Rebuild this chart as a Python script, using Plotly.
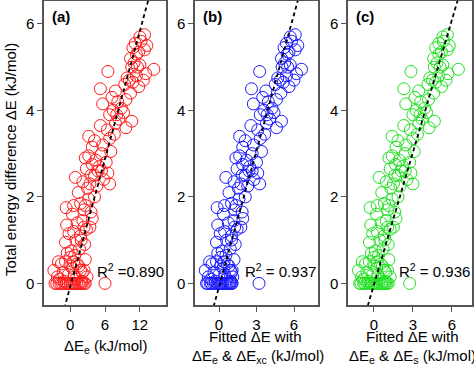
import plotly.graph_objects as go

# shared total energy difference (y) values
y_vals = [0, 0, 0, 0, 0, 0, 0, 0, 0, 0, 0,
          0.15, 0.3, 0.45, 0.5, 0.2, 0.35, 0.1, 0.4, 0.25, 0.55, 0.15, 0.6, 0.05, 0.3, 0.5, 0.2,
          0.65, 0.7, 0.8, 0.95, 0.9, 0.75, 1.0,
          1.1, 1.2, 1.25, 1.3, 1.35, 1.4, 1.45, 1.5, 1.15,
          1.6, 1.7, 1.75, 1.8, 1.85, 1.95, 2.0, 1.65,
          2.1, 2.2, 2.25, 2.35, 2.4, 2.45, 2.5, 2.55, 2.6, 2.3,
          2.65, 2.7, 2.75, 2.8, 2.85, 2.9, 3.0, 3.05, 2.95,
          3.15, 3.2, 3.3, 3.35, 3.4, 3.45,
          3.55, 3.6, 3.65, 3.7, 3.75, 3.8, 3.9, 3.95, 4.0, 4.05,
          4.15, 4.2, 4.25, 4.3, 4.4, 4.5, 4.55, 4.6, 4.45,
          4.65, 4.7, 4.75, 4.8, 4.9, 4.95, 5.0, 5.05, 5.1, 4.85,
          5.2, 5.3, 5.4, 5.45, 5.5, 5.6, 5.7, 5.75, 5.35,
          0, 0, 0, 0, 0, 0, 0, 0, 0,
          0.1, 0.25, 0.4, 0.45, 0.3, 0.05, 0.5,
          1.0, 1.3, 1.8, 2.3, 2.5, 2.6, 3.9, 4.7, 5.0, 5.55]

# (a) Delta E_e
x_a = [-2.6, -1.9, -1.3, -0.6, 0.0, 0.5, 1.1, 1.6, 2.1, 2.6, 6.0,
       -2.2, -2.8, -1.5, -0.8, -0.3, 0.4, 1.0, 1.5, 2.1, 2.6, 2.9, 0.0, -1.0, 1.8, -2.0, 0.7,
       0.8, -0.5, 1.6, -0.8, 2.5, 0.2, 1.0,
       1.8, 0.6, 2.8, 3.4, -0.6, 1.2, 2.2, 3.8, -0.2,
       0.4, 2.4, -0.7, 0.6, 1.8, 3.2, 4.2, 3.6,
       1.4, 3.0, 4.6, 2.2, 5.8, 0.9, 3.6, 6.5, 4.8, 6.8,
       2.8, 5.0, 3.8, 6.2, 4.4, 2.6, 5.4, 7.0, 3.2,
       3.8, 5.6, 4.2, 6.8, 3.2, 7.6,
       6.4, 9.6, 5.2, 7.8, 10.6, 8.4, 6.8, 9.2, 7.4, 8.8,
       5.6, 8.2, 9.6, 7.2, 10.4, 5.2, 11.8, 9.4, 7.8,
       10.8, 12.6, 9.8, 11.4, 6.5, 14.4, 10.6, 12.0, 11.0, 13.0,
       10.4, 11.4, 12.8, 10.8, 13.2, 12.2, 12.0, 12.8, 11.8,
       -2.3, -1.6, -0.9, -0.3, 0.3, 0.8, 1.4, 1.9, 2.4,
       -1.8, -1.2, 0.1, 1.2, 2.4, 2.0, 0.6,
       1.9, 2.4, 2.6, 3.4, 4.2, 5.4, 8.0, 10.2, 11.6, 11.2]

# (b) fitted Delta E with Delta E_e & Delta E_xc
x_b = [-1.0, -0.7, -0.45, -0.15, 0.1, 0.3, 0.55, 0.75, 0.9, 1.05, 3.2,
       -0.85, -1.1, -0.55, -0.2, 0.0, 0.35, 0.6, 0.8, 1.0, 1.2, 1.1, 0.15, -0.3, 0.9, -0.75, 0.45,
       0.55, -0.1, 0.9, -0.2, 1.3, 0.25, 0.6,
       1.0, 0.45, 1.45, 1.75, -0.1, 0.75, 1.2, 1.9, 0.1,
       0.35, 1.25, -0.15, 0.45, 1.0, 1.6, 2.1, 1.85,
       0.8, 1.55, 2.3, 1.2, 2.8, 0.55, 1.85, 3.1, 2.4, 3.25,
       1.45, 2.45, 1.9, 3.0, 2.2, 1.35, 2.65, 3.4, 1.65,
       1.9, 2.75, 2.1, 3.3, 1.65, 3.65,
       3.1, 4.6, 2.55, 3.8, 5.0, 4.05, 3.3, 4.4, 3.6, 4.25,
       2.75, 3.95, 4.6, 3.5, 4.95, 2.6, 5.6, 4.5, 3.75,
       5.15, 6.0, 4.7, 5.4, 3.25, 6.6, 5.05, 5.7, 5.25, 6.2,
       5.0, 5.45, 6.1, 5.2, 6.3, 5.8, 5.7, 6.1, 5.6,
       -0.9, -0.6, -0.3, 0.0, 0.2, 0.45, 0.65, 0.85, 1.0,
       -0.65, -0.4, 0.15, 0.65, 1.05, 0.95, 0.4,
       1.0, 1.25, 1.35, 1.75, 2.1, 2.65, 3.85, 4.9, 5.5, 5.4]

# (c) fitted Delta E with Delta E_e & Delta E_s
x_c = [-1.1, -0.8, -0.55, -0.25, 0.0, 0.25, 0.5, 0.7, 0.9, 1.1, 2.75,
       -0.95, -1.2, -0.65, -0.35, -0.1, 0.2, 0.45, 0.65, 0.9, 1.15, 1.25, 0.0, -0.45, 0.8, -0.9, 0.3,
       0.35, -0.2, 0.7, -0.35, 1.1, 0.1, 0.45,
       0.8, 0.25, 1.25, 1.5, -0.25, 0.55, 0.95, 1.7, -0.1,
       0.2, 1.05, -0.3, 0.25, 0.8, 1.4, 1.85, 1.6,
       0.6, 1.3, 2.0, 0.95, 2.55, 0.4, 1.6, 2.85, 2.1, 3.0,
       1.25, 2.2, 1.65, 2.75, 1.95, 1.15, 2.4, 3.1, 1.4,
       1.7, 2.45, 1.85, 3.0, 1.4, 3.35,
       2.8, 4.25, 2.3, 3.45, 4.65, 3.7, 3.0, 4.05, 3.25, 3.9,
       2.45, 3.6, 4.2, 3.15, 4.6, 2.3, 5.2, 4.15, 3.45,
       4.75, 5.55, 4.3, 5.0, 2.85, 6.5, 4.65, 5.3, 4.85, 5.7,
       4.6, 5.0, 5.65, 4.75, 5.8, 5.35, 5.3, 5.65, 5.2,
       -1.0, -0.7, -0.4, -0.12, 0.12, 0.37, 0.6, 0.8, 1.0,
       -0.8, -0.55, 0.05, 0.5, 1.05, 0.85, 0.25,
       0.85, 1.05, 1.15, 1.5, 1.85, 2.4, 3.55, 4.5, 5.1, 5.0]

panel_labels = ["(a)", "(b)", "(c)"]
r2_labels = ["R<sup>2</sup> =0.890", "R<sup>2</sup> = 0.937", "R<sup>2</sup> = 0.936"]
fit_slope = [0.493, 1.05, 1.02]
fit_intercept = [-0.08, -0.08, -0.03]
x_tick_vals = [[0, 6, 12], [0, 3, 6], [0, 3, 6]]
y_tick_vals = [0, 2, 4, 6]
x_ranges = [[-4.5, 16.5], [-1.92, 7.92], [-2.0, 7.55]]
y_range = [-0.5, 6.53]
colors = ["#ff1a1a", "#1a1aff", "#22e022"]

xs = [x_a, x_b, x_c]
domains = [[44 / 474, 166 / 474], [195 / 474, 318 / 474], [348 / 474, 472 / 474]]
ydom = [1 - 305 / 366, 1 - 1 / 366]

FONT = "Liberation Sans, Arial, sans-serif"
fig = go.Figure()

for i in range(3):
    xa = "x" if i == 0 else f"x{i+1}"
    ya = "y" if i == 0 else f"y{i+1}"
    fig.add_trace(go.Scatter(
        x=xs[i], y=y_vals, mode="markers", xaxis=xa, yaxis=ya,
        marker=dict(symbol="circle-open", size=12, color=colors[i], line=dict(width=1, color=colors[i])),
        showlegend=False, hoverinfo="skip"))
    lx = [x_ranges[i][0], x_ranges[i][1]]
    ly = [fit_slope[i] * v + fit_intercept[i] for v in lx]
    fig.add_trace(go.Scatter(
        x=lx, y=ly, mode="lines", xaxis=xa, yaxis=ya,
        line=dict(color="black", width=1.8, dash="4px,3px"),
        showlegend=False, hoverinfo="skip"))
    axcommon = dict(showline=True, mirror=True, linecolor="#555555", linewidth=1.5,
                    ticks="outside", ticklen=5, tickcolor="#555555", tickwidth=1,
                    showgrid=False, zeroline=False, automargin=False,
                    tickfont=dict(family=FONT, size=15, color="black"))
    fig.layout[("xaxis" if i == 0 else f"xaxis{i+1}")] = dict(
        domain=domains[i], range=x_ranges[i], tickvals=x_tick_vals[i],
        anchor=ya, **axcommon)
    fig.layout[("yaxis" if i == 0 else f"yaxis{i+1}")] = dict(
        domain=ydom, range=y_range, tickvals=y_tick_vals,
        anchor=xa, **axcommon)
    fig.add_annotation(text=panel_labels[i], xref=f"{xa} domain", yref=f"{ya} domain",
                       x=0.05, y=0.985, xanchor="left", yanchor="top", showarrow=False,
                       font=dict(family=FONT, size=15, color="black", weight="bold"))
    fig.add_annotation(text=r2_labels[i], xref=f"{xa} domain", yref=f"{ya} domain",
                       x=1.0, y=0.115, xanchor="right", yanchor="middle", showarrow=False,
                       font=dict(family=FONT, size=15, color="black"))

# axis titles as annotations
fig.add_annotation(text="ΔE<sub>e</sub> (kJ/mol)", xref="paper", yref="paper",
                   x=105 / 474, y=1 - 346 / 366, xanchor="center", yanchor="middle",
                   showarrow=False, font=dict(family=FONT, size=15, color="black"))
fig.add_annotation(text="Fitted ΔE with", xref="paper", yref="paper",
                   x=255 / 474, y=1 - 336 / 366, xanchor="center", yanchor="middle",
                   showarrow=False, font=dict(family=FONT, size=15, color="black"))
fig.add_annotation(text="ΔE<sub>e</sub> &amp; ΔE<sub>xc</sub> (kJ/mol)", xref="paper", yref="paper",
                   x=258 / 474, y=1 - 356 / 366, xanchor="center", yanchor="middle",
                   showarrow=False, font=dict(family=FONT, size=15, color="black"))
fig.add_annotation(text="Fitted ΔE with", xref="paper", yref="paper",
                   x=412 / 474, y=1 - 336 / 366, xanchor="center", yanchor="middle",
                   showarrow=False, font=dict(family=FONT, size=15, color="black"))
fig.add_annotation(text="ΔE<sub>e</sub> &amp; ΔE<sub>s</sub> (kJ/mol)", xref="paper", yref="paper",
                   x=412 / 474, y=1 - 356 / 366, xanchor="center", yanchor="middle",
                   showarrow=False, font=dict(family=FONT, size=15, color="black"))
fig.add_annotation(text="Total energy difference ΔE (kJ/mol)", xref="paper", yref="paper",
                   x=10 / 474, y=1 - 160 / 366, xanchor="center", yanchor="middle", textangle=-90,
                   showarrow=False, font=dict(family=FONT, size=15, color="black"))

fig.update_layout(width=474, height=366, margin=dict(l=0, r=0, t=0, b=0),
                  paper_bgcolor="white", plot_bgcolor="white")
fig.write_html("out.html", config={"displayModeBar": False},
               post_script="document.body.style.margin='0';document.body.style.padding='0';")
